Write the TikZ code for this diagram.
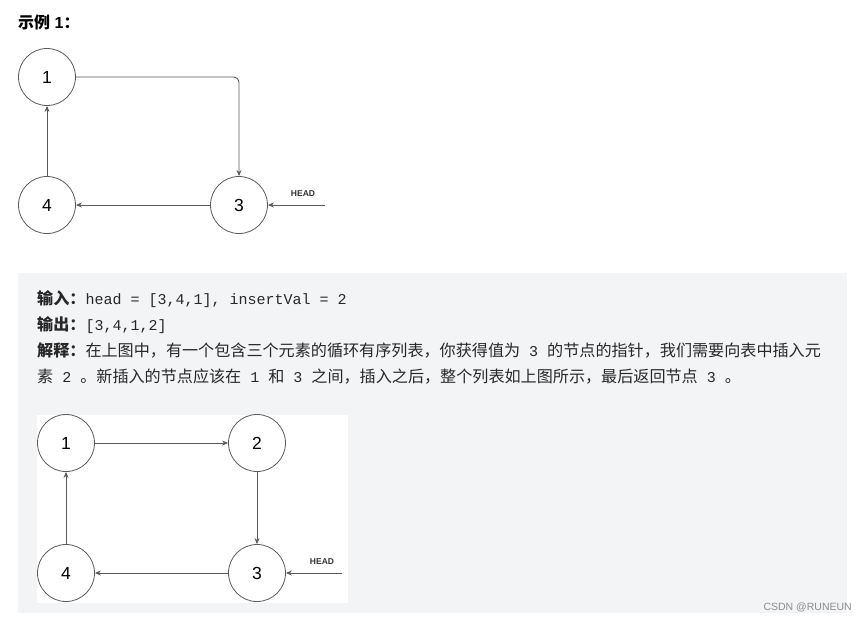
\documentclass[tikz,border=0pt]{standalone}
\usepackage{fontspec}
\setmainfont{Liberation Sans}
\newfontfamily\cjk{Noto Sans CJK SC}
\newfontfamily\monof{Liberation Mono}
\usetikzlibrary{arrows.meta}
\definecolor{boxgray}{RGB}{243,244,246}
\definecolor{linegray}{RGB}{90,90,90}
\definecolor{txt}{RGB}{40,40,40}
\tikzset{
  circnode/.style={circle, draw=linegray, line width=0.8pt, minimum size=57pt, inner sep=0pt, font=\fontsize{17.5}{17.5}\selectfont},
  conn/.style={draw=linegray, line width=0.9pt, -{Stealth[length=6pt,width=5pt]}},
  headlbl/.style={font=\fontsize{8.5}{8.5}\selectfont\bfseries, text=black!80, inner sep=0pt},
  txtline/.style={anchor=base west, inner sep=0pt, text=txt, font=\fontsize{16.1}{16.1}\selectfont},
}
\newcommand{\mt}[1]{{\monof\fontsize{15}{15}\selectfont #1}}
\begin{document}
\begin{tikzpicture}[x=1pt,y=-1pt]
\useasboundingbox (0,0) rectangle (868,622);
\fill[white] (0,0) rectangle (868,622);
% title
\node[anchor=base west, inner sep=0pt, font=\fontsize{16}{16}\selectfont\bfseries] (title) at (18,28) {{\cjk\bfseries 示例} 1{\cjk\bfseries ：}};
% top diagram
\node[circnode] (a1) at (47,77) {1};
\node[circnode] (a4) at (47,205) {4};
\node[circnode] (a3) at (239,205) {3};
\coordinate (ha) at (325,205);
\node[headlbl] (hla) at (303,194) {HEAD};
\draw[conn, rounded corners=5pt] (a1.east) -| (a3.north);
\draw[conn] (a3) -- (a4);
\draw[conn] (a4) -- (a1);
\draw[conn] (ha) -- (a3);
% gray box
\fill[boxgray] (18,273) rectangle (847,613);
\node[txtline] (l1) at (37,304) {{\cjk\bfseries 输入：}\mt{head = [3,4,1], insertVal = 2}};
\node[txtline] (l2) at (37,330) {{\cjk\bfseries 输出：}\mt{[3,4,1,2]}};
\node[txtline] (l3) at (37,356) {{\cjk\bfseries 解释：}{\cjk 在上图中，有一个包含三个元素的循环有序列表，你获得值为}\mt{ 3 }{\cjk 的节点的指针，我们需要向表中插入元}};
\node[txtline] (l4) at (37,382) {{\cjk 素}\mt{ 2 }{\cjk 。新插入的节点应该在}\mt{ 1 }{\cjk 和}\mt{ 3 }{\cjk 之间，插入之后，整个列表如上图所示，最后返回节点}\mt{ 3 }{\cjk 。}};
% bottom diagram
\fill[white] (37,415) rectangle (348,603);
\node[circnode] (b1) at (66,443) {1};
\node[circnode] (b2) at (257,443) {2};
\node[circnode] (b3) at (257,573) {3};
\node[circnode] (b4) at (66,573) {4};
\coordinate (hb) at (342,573);
\node[headlbl] (hlb) at (322,562) {HEAD};
\draw[conn] (b1) -- (b2);
\draw[conn] (b2) -- (b3);
\draw[conn] (b3) -- (b4);
\draw[conn] (b4) -- (b1);
\draw[conn] (hb) -- (b3);
% watermark
\node[anchor=east, inner sep=0pt, text=black!45, font=\fontsize{10.5}{10.5}\selectfont] (wm) at (852,607) {CSDN @RUNEUN};
\end{tikzpicture}
\end{document}
